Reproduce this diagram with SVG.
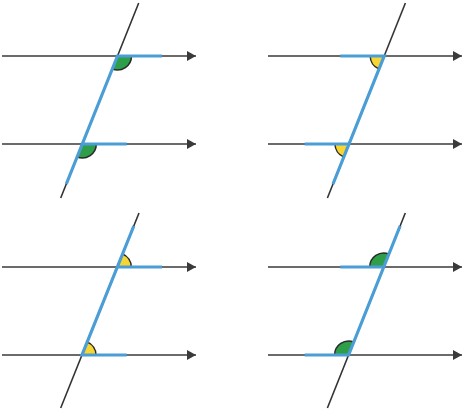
<svg xmlns="http://www.w3.org/2000/svg" width="464" height="412" viewBox="0 0 464 412">
  <defs>
    <marker id="arrow" viewBox="0 0 9 10" refX="9" refY="5" markerWidth="9" markerHeight="10" markerUnits="userSpaceOnUse" orient="auto">
      <path d="M0,0 L9,5 L0,10 Z" fill="#3a3a3a"/>
    </marker>
  </defs>
  <style>
    .par { stroke: #3a3a3a; stroke-width: 1.6; fill: none; marker-end: url(#arrow); }
    .tr { stroke: #333333; stroke-width: 1.6; fill: none; }
    .blue { stroke: #4b9dd6; stroke-width: 3.2; fill: none; stroke-linejoin: miter; }
    .green { fill: #2f9e48; stroke: none; }
    .yellow { fill: #f7d633; stroke: none; }
    .arc { fill: none; stroke: #2a2a2a; stroke-width: 1.5; }
  </style>
  <rect width="464" height="412" fill="#ffffff"/>

  <g id="panel-top-left">
    <line class="par" x1="2" y1="56" x2="196" y2="56"/>
    <line class="par" x1="2" y1="144" x2="196" y2="144"/>
    <line class="tr" x1="138.7" y1="3" x2="60.7" y2="198"/>
    <path class="green" d="M117.5,56 L131.5,56 A14,14 0 0 1 112.3,69 Z"/>
    <path class="arc" d="M131.5,56 A14,14 0 0 1 112.3,69"/>
    <path class="green" d="M82.3,144 L96.3,144 A14,14 0 0 1 77.1,157 Z"/>
    <path class="arc" d="M96.3,144 A14,14 0 0 1 77.1,157"/>
    <polyline class="blue" points="162,56 117.5,56 66.3,184"/>
    <line class="blue" x1="82.3" y1="144" x2="126.7" y2="144"/>
  </g>

  <g id="panel-top-right">
    <line class="par" x1="268" y1="56" x2="462" y2="56"/>
    <line class="par" x1="268" y1="144" x2="462" y2="144"/>
    <line class="tr" x1="405.4" y1="3" x2="327.4" y2="198"/>
    <path class="yellow" d="M384.2,56 L379,69 A14,14 0 0 1 370.2,56 Z"/>
    <path class="arc" d="M379,69 A14,14 0 0 1 370.2,56"/>
    <path class="yellow" d="M349,144 L343.8,157 A14,14 0 0 1 335,144 Z"/>
    <path class="arc" d="M343.8,157 A14,14 0 0 1 335,144"/>
    <polyline class="blue" points="340.3,56 384.2,56 333,184"/>
    <line class="blue" x1="304.7" y1="144" x2="349" y2="144"/>
  </g>

  <g id="panel-bottom-left">
    <line class="par" x1="2" y1="267" x2="196" y2="267"/>
    <line class="par" x1="2" y1="355" x2="196" y2="355"/>
    <line class="tr" x1="139" y1="213" x2="60.7" y2="408"/>
    <path class="yellow" d="M117.3,267 L122.5,254 A14,14 0 0 1 131.3,267 Z"/>
    <path class="arc" d="M122.5,254 A14,14 0 0 1 131.3,267"/>
    <path class="yellow" d="M82,355 L87.2,342 A14,14 0 0 1 96,355 Z"/>
    <path class="arc" d="M87.2,342 A14,14 0 0 1 96,355"/>
    <polyline class="blue" points="126.7,355 82,355 133.8,226"/>
    <line class="blue" x1="117.3" y1="267" x2="162" y2="267"/>
  </g>

  <g id="panel-bottom-right">
    <line class="par" x1="268" y1="267" x2="462" y2="267"/>
    <line class="par" x1="268" y1="355" x2="462" y2="355"/>
    <line class="tr" x1="405.3" y1="213" x2="327.4" y2="408"/>
    <path class="green" d="M383.7,267 L369.7,267 A14,14 0 0 1 388.9,254 Z"/>
    <path class="arc" d="M369.7,267 A14,14 0 0 1 388.9,254"/>
    <path class="green" d="M348.6,355 L334.6,355 A14,14 0 0 1 353.8,342 Z"/>
    <path class="arc" d="M334.6,355 A14,14 0 0 1 353.8,342"/>
    <polyline class="blue" points="304.7,355 348.6,355 400.1,226"/>
    <line class="blue" x1="340.3" y1="267" x2="383.7" y2="267"/>
  </g>
</svg>
